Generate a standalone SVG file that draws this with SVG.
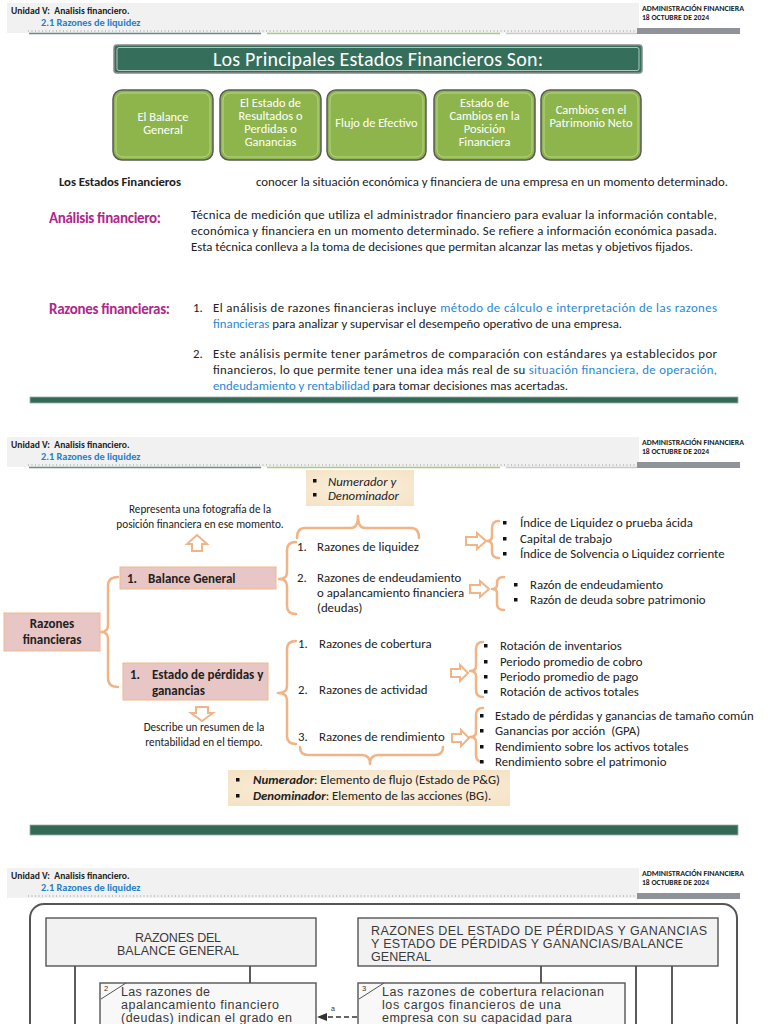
<svg xmlns="http://www.w3.org/2000/svg" width="768" height="1024" viewBox="0 0 768 1024">
<defs>
<style>
.c{font-family:Carlito,Lato,'Liberation Sans',sans-serif}
.b{font-weight:bold}
.hdr1{font-family:Carlito,Lato,'Liberation Sans',sans-serif;font-weight:bold;font-size:9.6px;fill:#222;white-space:pre}
.hdr2{font-family:Carlito,Lato,'Liberation Sans',sans-serif;font-weight:bold;font-size:10.3px;fill:#1f80c8}
.hdr3{font-family:Carlito,Lato,'Liberation Sans',sans-serif;font-weight:bold;font-size:7.6px;fill:#222}
.gbox{fill:#8db54b;stroke:#5a5a5a;stroke-width:1.5}
.gin{fill:none;stroke:#b9d48a;stroke-width:1}
.gt{font-family:Carlito,Lato,'Liberation Sans',sans-serif;font-size:12.4px;fill:#fff;text-anchor:middle}
.p1{font-family:Carlito,Lato,'Liberation Sans',sans-serif;font-size:12.8px;fill:#222}
.mag{font-family:Carlito,Lato,'Liberation Sans',sans-serif;font-weight:bold;font-size:15px;fill:#b0278c}
.bl{fill:#2a88d2}
.or{fill:none;stroke:#f0b486;stroke-width:2.5;stroke-linecap:round;stroke-linejoin:round}
.arr{fill:#fff;stroke:#f0b486;stroke-width:2;stroke-linejoin:miter}
.pink{fill:#e8c6c5;stroke:#f0b888;stroke-width:1}
.t2{font-family:Carlito,Lato,'Liberation Sans',sans-serif;font-size:12.8px;fill:#222}
.t2b{font-family:Carlito,Lato,'Liberation Sans',sans-serif;font-size:13px;font-weight:bold;fill:#222}
.sm{font-family:Carlito,Lato,'Liberation Sans',sans-serif;font-size:11.2px;fill:#222;text-anchor:middle}
.sq{fill:#111}
.bar{fill:#336a56;stroke:#9ab0a6;stroke-width:0.8}
.h3{font-family:'Liberation Sans',Arial,sans-serif;font-size:12.5px;fill:#3a3a3a}
.box3{fill:#f2f2f2;stroke:#555;stroke-width:1.4}
.box3w{fill:#f8f8f8;stroke:#555;stroke-width:1.4}
.ln3{stroke:#333;stroke-width:1.6;fill:none}
</style>
<radialGradient id="beige" cx="0.5" cy="0.5" r="0.7">
<stop offset="0" stop-color="#fbf1e0"/>
<stop offset="1" stop-color="#f5e2c4"/>
</radialGradient>
<marker id="ah" viewBox="0 0 10 10" refX="9" refY="5" markerWidth="7" markerHeight="7" orient="auto">
<path d="M0,1 L10,5 L0,9 Z" fill="#333"/>
</marker>
</defs>

<rect width="768" height="1024" fill="#fff"/>

<!-- ===== PAGE 1 ===== -->
<g id="header1">
<rect x="7" y="3" width="632" height="30" fill="#f1f1f1"/>
<line x1="28" y1="31" x2="637" y2="31" stroke="#c4c4c4" stroke-width="2" stroke-dasharray="1 2.5"/>
<line x1="29" y1="33.5" x2="261" y2="33.5" stroke="#6e8c86" stroke-width="1.6"/>
<line x1="267" y1="33.5" x2="500" y2="33.5" stroke="#a9cc7c" stroke-width="1.6"/>
<line x1="506" y1="33.5" x2="637" y2="33.5" stroke="#c9cacc" stroke-width="1.6"/>
<rect x="637" y="28" width="103" height="6" fill="#8f9399"/>
<text class="hdr1" x="11" y="14">Unidad V:  Analisis financiero.</text>
<text class="hdr2" x="41" y="26">2.1 Razones de liquidez</text>
<text class="hdr3" x="642" y="11" textLength="102" lengthAdjust="spacingAndGlyphs">ADMINISTRACIÓN FINANCIERA</text>
<text class="hdr3" x="642" y="20" textLength="67" lengthAdjust="spacingAndGlyphs">18 OCTUBRE DE 2024</text>
</g>

<g id="title">
<rect x="114" y="45" width="528" height="28" rx="3" fill="#356f5b" stroke="#8a8a8a" stroke-width="1.5"/>
<rect x="117" y="47.5" width="522" height="23" rx="2" fill="none" stroke="#cfe0d6" stroke-width="0.8"/>
<text class="c" x="378" y="66" font-size="20" fill="#fff" text-anchor="middle" textLength="330">Los Principales Estados Financieros Son:</text>
</g>

<g id="box-balance">
<rect class="gbox" x="113" y="90" width="100" height="70" rx="9"/>
<rect class="gin" x="116" y="93" width="94" height="64" rx="7"/>
<text class="gt" x="163" y="121">El Balance</text>
<text class="gt" x="163" y="134">General</text>
</g>
<g id="box-resultados">
<rect class="gbox" x="220" y="90" width="101" height="70" rx="9"/>
<rect class="gin" x="223" y="93" width="95" height="64" rx="7"/>
<text class="gt" x="270.5" y="107">El Estado de</text>
<text class="gt" x="270.5" y="120">Resultados o</text>
<text class="gt" x="270.5" y="133">Perdidas o</text>
<text class="gt" x="270.5" y="146">Ganancias</text>
</g>
<g id="box-flujo">
<rect class="gbox" x="327" y="90" width="99" height="70" rx="9"/>
<rect class="gin" x="330" y="93" width="93" height="64" rx="7"/>
<text class="gt" x="376.5" y="127">Flujo de Efectivo</text>
</g>
<g id="box-cambios-posicion">
<rect class="gbox" x="434" y="90" width="101" height="70" rx="9"/>
<rect class="gin" x="437" y="93" width="95" height="64" rx="7"/>
<text class="gt" x="484.5" y="107">Estado de</text>
<text class="gt" x="484.5" y="120">Cambios en la</text>
<text class="gt" x="484.5" y="133">Posición</text>
<text class="gt" x="484.5" y="146">Financiera</text>
</g>
<g id="box-patrimonio">
<rect class="gbox" x="541" y="90" width="100" height="70" rx="9"/>
<rect class="gin" x="544" y="93" width="94" height="64" rx="7"/>
<text class="gt" x="591" y="114">Cambios en el</text>
<text class="gt" x="591" y="127">Patrimonio Neto</text>
</g>

<g id="texts-p1">
<text class="p1 b" x="59" y="186" textLength="122">Los Estados Financieros</text>
<text class="p1" x="256" y="186" textLength="472">conocer la situación económica y financiera de una empresa en un momento determinado.</text>

<text class="mag" x="49" y="223" textLength="112">Análisis financiero:</text>
<text class="p1" x="191" y="219" textLength="526">Técnica de medición que utiliza el administrador financiero para evaluar la información contable,</text>
<text class="p1" x="191" y="235" textLength="526">económica y financiera en un momento determinado. Se refiere a información económica pasada.</text>
<text class="p1" x="191" y="251" textLength="502">Esta técnica conlleva a la toma de decisiones que permitan alcanzar las metas y objetivos fijados.</text>

<text class="mag" x="49" y="314" textLength="121">Razones financieras:</text>
<text class="p1" x="193" y="312">1.</text>
<text class="p1" x="213" y="312" textLength="504">El análisis de razones financieras incluye <tspan class="bl">método de cálculo e interpretación de las razones</tspan></text>
<text class="p1" x="213" y="328" textLength="409"><tspan class="bl">financieras</tspan> para analizar y supervisar el desempeño operativo de una empresa.</text>
<text class="p1" x="193" y="358">2.</text>
<text class="p1" x="213" y="358" textLength="504">Este análisis permite tener parámetros de comparación con estándares ya establecidos por</text>
<text class="p1" x="213" y="374" textLength="504">financieros, lo que permite tener una idea más real de su <tspan class="bl">situación financiera, de operación,</tspan></text>
<text class="p1" x="213" y="390" textLength="355"><tspan class="bl">endeudamiento y rentabilidad</tspan> para tomar decisiones mas acertadas.</text>
</g>
<rect class="bar" x="30" y="397" width="708" height="6"/>

<!-- ===== PAGE 2 ===== -->
<g id="header2">
<rect x="7" y="437" width="632" height="30" fill="#f1f1f1"/>
<line x1="28" y1="465" x2="637" y2="465" stroke="#c4c4c4" stroke-width="2" stroke-dasharray="1 2.5"/>
<line x1="29" y1="467.5" x2="261" y2="467.5" stroke="#6e8c86" stroke-width="1.6"/>
<line x1="267" y1="467.5" x2="500" y2="467.5" stroke="#a9cc7c" stroke-width="1.6"/>
<line x1="506" y1="467.5" x2="637" y2="467.5" stroke="#c9cacc" stroke-width="1.6"/>
<rect x="637" y="462" width="103" height="6" fill="#8f9399"/>
<text class="hdr1" x="11" y="448">Unidad V:  Analisis financiero.</text>
<text class="hdr2" x="41" y="460">2.1 Razones de liquidez</text>
<text class="hdr3" x="642" y="445" textLength="102" lengthAdjust="spacingAndGlyphs">ADMINISTRACIÓN FINANCIERA</text>
<text class="hdr3" x="642" y="454" textLength="67" lengthAdjust="spacingAndGlyphs">18 OCTUBRE DE 2024</text>
</g>

<g id="connectors">
<path class="or" d="M297,538 Q297,528 305,528 L351,528 Q358,528 358,516 Q358,528 365,528 L411,528 Q419,528 419,538"/>
<path class="or" d="M296,542 Q287,542 287,550 L287,572 Q287,579 279,579 Q287,579 287,586 L287,606 Q287,614 296,614"/>
<path class="or" d="M118,577 Q108,577 108,586 L108,625 Q108,632 101,632 Q108,632 108,639 L108,678 Q108,687 118,687"/>
<path class="or" d="M296,641 Q287,641 287,649 L287,686 Q287,693 278,693 Q287,693 287,700 L287,736 Q287,744 296,744"/>
<path class="or" d="M300,747 Q300,755 308,755 L362,755 Q370,755 370,764 Q370,755 378,755 L435,755 Q443,755 443,747"/>
<path class="or" d="M499,521 Q492,521 492,528 L492,536 Q492,541 487,541 Q492,541 492,546 L492,552 Q492,558 499,558"/>
<path class="or" d="M504,577 Q497,577 497,583 L497,585 Q497,589 492,589 Q497,589 497,593 L497,604 Q497,610 504,610"/>
<path class="or" d="M483,642 Q476,642 476,649 L476,666 Q476,671 470,671 Q476,671 476,676 L476,690 Q476,697 483,697"/>
<path class="or" d="M483,708 Q476,708 476,715 L476,732 Q476,737 470,737 Q476,737 476,742 L476,755 Q476,762 483,762"/>
<polygon class="arr" points="197,535 207,544 202,544 202,551 192,551 192,544 187,544"/>
<polygon class="arr" points="196,707 208,707 208,713 213,713 202,721 191,713 196,713"/>
<polygon class="arr" points="466,537 477,537 477,533 486,541 477,549 477,545 466,545"/>
<polygon class="arr" points="470,585 480,585 480,581 489,589 480,597 480,593 470,593"/>
<polygon class="arr" points="451,669 460,669 460,665 468,673 460,681 460,677 451,677"/>
<polygon class="arr" points="452,734 461,734 461,730 469,738 461,746 461,742 452,742"/>
</g>

<g id="numerador-top">
<rect x="306" y="470" width="108" height="36" fill="url(#beige)"/>
<rect class="sq" x="313" y="479" width="3.5" height="3.5"/>
<text class="t2" x="328" y="486" font-style="italic">Numerador y</text>
<rect class="sq" x="313" y="493" width="3.5" height="3.5"/>
<text class="t2" x="328" y="500" font-style="italic">Denominador</text>
</g>

<g id="nota-balance">
<text class="sm" x="200" y="513">Representa una fotografía de la</text>
<text class="sm" x="200" y="528">posición financiera en ese momento.</text>
</g>

<g id="razones-financieras">
<rect class="pink" x="4" y="613" width="96" height="38"/>
<text class="t2b" x="52" y="628" text-anchor="middle">Razones</text>
<text class="t2b" x="52" y="644" text-anchor="middle">financieras</text>
</g>

<g id="balance-general">
<rect class="pink" x="120" y="567" width="156" height="22"/>
<text class="t2b" x="127" y="582.5">1.</text>
<text class="t2b" x="148" y="582.5">Balance General</text>
</g>

<g id="estado-pg">
<rect class="pink" x="123" y="663" width="145" height="37"/>
<text class="t2b" x="130" y="679">1.</text>
<text class="t2b" x="152" y="679">Estado de pérdidas y</text>
<text class="t2b" x="152" y="695">ganancias</text>
</g>

<g id="nota-estado">
<text class="sm" x="204" y="731">Describe un resumen de la</text>
<text class="sm" x="204" y="746">rentabilidad en el tiempo.</text>
</g>

<g id="liquidez">
<text class="t2" x="297" y="551">1.</text>
<text class="t2" x="317" y="551">Razones de liquidez</text>
</g>
<g id="endeudamiento">
<text class="t2" x="297" y="582">2.</text>
<text class="t2" x="317" y="582">Razones de endeudamiento</text>
<text class="t2" x="317" y="597">o apalancamiento financiera</text>
<text class="t2" x="317" y="612">(deudas)</text>
</g>
<g id="cobertura">
<text class="t2" x="298" y="648">1.</text>
<text class="t2" x="319" y="648">Razones de cobertura</text>
</g>
<g id="actividad">
<text class="t2" x="298" y="694">2.</text>
<text class="t2" x="319" y="694">Razones de actividad</text>
</g>
<g id="rendimiento">
<text class="t2" x="298" y="741">3.</text>
<text class="t2" x="319" y="741">Razones de rendimiento</text>
</g>

<g id="lista-liquidez">
<rect class="sq" x="503" y="521" width="3.5" height="3.5"/>
<text class="t2" x="520" y="527">Índice de Liquidez o prueba ácida</text>
<rect class="sq" x="503" y="537" width="3.5" height="3.5"/>
<text class="t2" x="520" y="543">Capital de trabajo</text>
<rect class="sq" x="503" y="552" width="3.5" height="3.5"/>
<text class="t2" x="520" y="558">Índice de Solvencia o Liquidez corriente</text>
</g>
<g id="lista-endeudamiento">
<rect class="sq" x="514" y="583" width="3.5" height="3.5"/>
<text class="t2" x="530" y="589">Razón de endeudamiento</text>
<rect class="sq" x="514" y="598" width="3.5" height="3.5"/>
<text class="t2" x="530" y="604">Razón de deuda sobre patrimonio</text>
</g>
<g id="lista-actividad">
<rect class="sq" x="484" y="644" width="3.5" height="3.5"/>
<text class="t2" x="500" y="650">Rotación de inventarios</text>
<rect class="sq" x="484" y="660" width="3.5" height="3.5"/>
<text class="t2" x="500" y="666">Periodo promedio de cobro</text>
<rect class="sq" x="484" y="675" width="3.5" height="3.5"/>
<text class="t2" x="500" y="681">Periodo promedio de pago</text>
<rect class="sq" x="484" y="690" width="3.5" height="3.5"/>
<text class="t2" x="500" y="696">Rotación de activos totales</text>
</g>
<g id="lista-rendimiento">
<rect class="sq" x="480" y="714" width="3.5" height="3.5"/>
<text class="t2" x="495" y="720">Estado de pérdidas y ganancias de tamaño común</text>
<rect class="sq" x="480" y="729" width="3.5" height="3.5"/>
<text class="t2" x="495" y="735" style="white-space:pre">Ganancias por acción  (GPA)</text>
<rect class="sq" x="480" y="745" width="3.5" height="3.5"/>
<text class="t2" x="495" y="751">Rendimiento sobre los activos totales</text>
<rect class="sq" x="480" y="760" width="3.5" height="3.5"/>
<text class="t2" x="495" y="766">Rendimiento sobre el patrimonio</text>
</g>

<g id="numerador-bottom">
<rect x="228" y="770" width="282" height="36" fill="url(#beige)"/>
<rect class="sq" x="236" y="778" width="3.5" height="3.5"/>
<text class="t2" x="253" y="784"><tspan font-weight="bold" font-style="italic">Numerador</tspan>: Elemento de flujo (Estado de P&amp;G)</text>
<rect class="sq" x="236" y="794" width="3.5" height="3.5"/>
<text class="t2" x="253" y="800"><tspan font-weight="bold" font-style="italic">Denominador</tspan>: Elemento de las acciones (BG).</text>
</g>
<rect class="bar" x="30" y="825" width="708" height="10"/>

<!-- ===== PAGE 3 ===== -->
<g id="header3">
<rect x="7" y="868" width="632" height="30" fill="#f1f1f1"/>
<line x1="28" y1="896" x2="637" y2="896" stroke="#c4c4c4" stroke-width="2" stroke-dasharray="1 2.5"/>
<rect x="637" y="893" width="103" height="6" fill="#8f9399"/>
<text class="hdr1" x="11" y="879">Unidad V:  Analisis financiero.</text>
<text class="hdr2" x="41" y="891">2.1 Razones de liquidez</text>
<text class="hdr3" x="642" y="876" textLength="102" lengthAdjust="spacingAndGlyphs">ADMINISTRACIÓN FINANCIERA</text>
<text class="hdr3" x="642" y="885" textLength="67" lengthAdjust="spacingAndGlyphs">18 OCTUBRE DE 2024</text>
</g>

<rect x="30" y="904" width="707" height="150" rx="14" fill="#fff" stroke="#555" stroke-width="2"/>

<g id="connectors-p3">
<line class="ln3" x1="75" y1="966" x2="75" y2="1024"/>
<line class="ln3" x1="250" y1="966" x2="250" y2="983"/>
<line class="ln3" x1="541" y1="966" x2="541" y2="983"/>
<line class="ln3" x1="636" y1="966" x2="636" y2="1024"/>
<line class="ln3" x1="672" y1="966" x2="672" y2="1024"/>
<line x1="357" y1="1017" x2="318" y2="1017" stroke="#333" stroke-width="1.5" stroke-dasharray="5 3" marker-end="url(#ah)"/>
<text x="331" y="1011" font-family="'Liberation Sans',Arial,sans-serif" font-size="7" fill="#333">a</text>
</g>

<g id="razones-balance">
<rect class="box3" x="46" y="918" width="270" height="48"/>
<text class="h3" x="178" y="942" text-anchor="middle" textLength="86">RAZONES DEL</text>
<text class="h3" x="178" y="955" text-anchor="middle" textLength="122">BALANCE GENERAL</text>
</g>
<g id="razones-estado">
<rect class="box3" x="358" y="918" width="360" height="48"/>
<text class="h3" x="371" y="935" textLength="336">RAZONES DEL ESTADO DE PÉRDIDAS Y GANANCIAS</text>
<text class="h3" x="371" y="948" textLength="312">Y ESTADO DE PÉRDIDAS Y GANANCIAS/BALANCE</text>
<text class="h3" x="371" y="961" textLength="60">GENERAL</text>
</g>
<g id="box-2">
<rect class="box3w" x="100" y="983" width="216" height="60"/>
<line x1="101" y1="999" x2="126" y2="983" stroke="#555" stroke-width="1"/>
<text x="104" y="991" font-family="'Liberation Sans',Arial,sans-serif" font-size="7.5" fill="#333">2</text>
<text class="h3" x="121" y="996" textLength="89">Las razones de</text>
<text class="h3" x="121" y="1009" textLength="158">apalancamiento financiero</text>
<text class="h3" x="121" y="1022" textLength="171">(deudas) indican el grado en</text>
</g>
<g id="box-3">
<rect class="box3w" x="358" y="983" width="267" height="60"/>
<line x1="359" y1="999" x2="384" y2="983" stroke="#555" stroke-width="1"/>
<text x="362" y="991" font-family="'Liberation Sans',Arial,sans-serif" font-size="7.5" fill="#333">3</text>
<text class="h3" x="382" y="996" textLength="222">Las razones de cobertura relacionan</text>
<text class="h3" x="382" y="1009" textLength="179">los cargos financieros de una</text>
<text class="h3" x="382" y="1022" textLength="190">empresa con su capacidad para</text>
</g>
</svg>
